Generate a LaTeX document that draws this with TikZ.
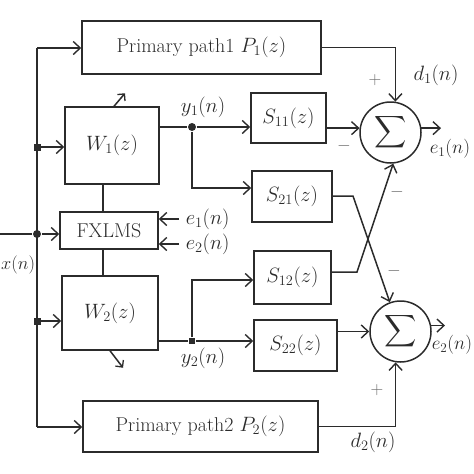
\documentclass[tikz,border=0pt]{standalone}
\usepackage{amsmath}
\usepackage{exscale}
\usepackage{graphicx}
\usetikzlibrary{arrows.meta}
\definecolor{ink}{HTML}{2B2B2B}
\definecolor{sgncol}{HTML}{6A6A6A}
\newcommand\myfs{\fontsize{20}{24}\selectfont}
\newcommand\sgfs{\fontsize{26}{30}\selectfont}
\begin{document}
\begin{tikzpicture}[x=1pt,y=-1pt, line width=1.5pt, ink,
  blk/.style={draw, rectangle, inner sep=0pt, font=\myfs},
  sumc/.style={draw, circle, minimum size=61pt, inner sep=0pt, font=\sgfs},
  arr/.style={-{Straight Barb[length=7pt,width=13pt,line width=1.4pt]}},
  arrs/.style={-{Straight Barb[length=5pt,width=10pt,line width=1.3pt]}},
  dot/.style={circle, fill=ink, minimum size=8pt, inner sep=0pt},
  sq/.style={rectangle, fill=ink, minimum size=7pt, inner sep=0pt},
  lbl/.style={font=\myfs, inner sep=0pt},
  sgn/.style={font=\myfs, text=sgncol, inner sep=0pt}]
\useasboundingbox (0,0) rectangle (474,474);
% blocks
\node[blk, minimum width=239pt, minimum height=53pt] (P1) at (201.5,47.5) {Primary path1 $P_1(z)$};
\node[blk, minimum width=235pt, minimum height=51pt] (P2) at (200.5,426.5) {Primary path2 $P_2(z)$};
\node[blk, minimum width=94pt, minimum height=77pt] (W1) at (112,145.5) {$W_1(z)$};
\node[blk, minimum width=98pt, minimum height=37pt] (FX) at (109,230.5) {FXLMS};
\node[blk, minimum width=96pt, minimum height=74pt] (W2) at (110,313) {$W_2(z)$};
\node[blk, minimum width=75pt, minimum height=50pt] (S11) at (288.5,118) {$S_{11}(z)$};
\node[blk, minimum width=80pt, minimum height=51pt] (S21) at (292,196.5) {$S_{21}(z)$};
\node[blk, minimum width=77pt, minimum height=53pt] (S12) at (292.5,277.5) {$S_{12}(z)$};
\node[blk, minimum width=83pt, minimum height=51pt] (S22) at (295.5,345.5) {$S_{22}(z)$};
\node[sumc] (s1) at (390.5,132.5) {\scalebox{0.9}{$\displaystyle\sum$}};
\node[sumc] (s2) at (400.5,331.5) {\scalebox{0.9}{$\displaystyle\sum$}};
% input and left bus
\coordinate (xin) at (-2,234);
\coordinate (vt) at (37,48);
\coordinate (vb) at (37,427);
\draw (vt) -- (vb);
\node[dot] (j0) at (37,234) {};
\node[sq] (q1) at (37,147) {};
\node[sq] (q2) at (37,321) {};
\draw[line width=2pt] (xin) -- (j0);
\draw[arr] (j0) -- (FX.west |- j0);
\draw[arr] (vt) -- (P1.west |- vt);
\draw[arr] (vb) -- (P2.west |- vb);
\draw[arr] (q1) -- (W1.west |- q1);
\draw[arr] (q2) -- (W2.west |- q2);
% W - FXLMS links
\coordinate (lk) at (103,0);
\draw (W1.south -| lk) -- (FX.north -| lk);
\draw (FX.south -| lk) -- (W2.north -| lk);
% adaptive arrows
\draw[arrs] ([xshift=2pt]W1.north) -- ++(11,-13);
\draw[arrs] (W2.south) -- ++(13,17);
% W outputs
\node[dot] (j1) at (192,127) {};
\node[sq, minimum size=6pt] (j2) at (192,341) {};
\draw (W1.east |- j1) -- (j1);
\draw[arr] (j1) -- (S11.west |- j1);
\coordinate (b1) at (192,188);
\draw[arr] (j1) |- (S21.west |- b1);
\draw (W2.east |- j2) -- (j2);
\draw[arr] (j2) -- (S22.west |- j2);
\coordinate (b2) at (192,280);
\draw[arr] (j2) |- (S12.west |- b2);
% to summers
\draw[arr] (S11.east |- s1.172) -- (s1.172);
\draw[arr] (P1.east) -| (s1.81);
\coordinate (c1) at (353,196);
\draw[arr] (S21.east |- c1) -- (c1) -- (s2.110);
\coordinate (c2) at (357,272);
\draw[arr] (S12.east |- c2) -- (c2) -- (s1.275);
\draw[arr] (S22.east |- s2.west) -- (s2.west);
\draw[arr] (P2.east) -| (s2.261);
\coordinate (o1) at (441,0);
\draw[arr] (s1.8) -- (s1.8 -| o1);
\coordinate (o2) at (445,0);
\draw[arr] (s2.11) -- (s2.11 -| o2);
% FXLMS error inputs
\node[lbl, anchor=west] (fe1) at (185,219) {$e_1(n)$};
\node[lbl, anchor=west] (fe2) at (185,244) {$e_2(n)$};
\draw[arr] ([xshift=-6pt]fe1.west) -- (FX.east |- fe1.west);
\draw[arr] ([xshift=-6pt]fe2.west) -- (FX.east |- fe2.west);
% labels
\node[lbl] (ly1) at (203,107) {$y_1(n)$};
\node[lbl] (ly2) at (203,358) {$y_2(n)$};
\node[lbl] (ld1) at (436,75) {$d_1(n)$};
\node[lbl] (ld2) at (373,442) {$d_2(n)$};
\node[lbl, anchor=west] (le1) at (429,149) {\scalebox{0.92}{$e_1(n)$}};
\node[lbl, anchor=west] (le2) at (431,345) {\scalebox{0.92}{$e_2(n)$}};
\node[lbl, anchor=west] (lx) at (0.5,265) {\scalebox{0.88}{$x(n)$}};
% signs
\node[sgn] (pl1) at (375,80) {\scalebox{0.85}{$+$}};
\node[sgn] (mi1) at (344,146) {\scalebox{0.85}{$-$}};
\node[sgn] (mi2) at (397,192) {\scalebox{0.85}{$-$}};
\node[sgn] (mi3) at (394,271) {\scalebox{0.85}{$-$}};
\node[sgn] (pl2) at (377,390) {\scalebox{0.85}{$+$}};
\end{tikzpicture}
\end{document}
